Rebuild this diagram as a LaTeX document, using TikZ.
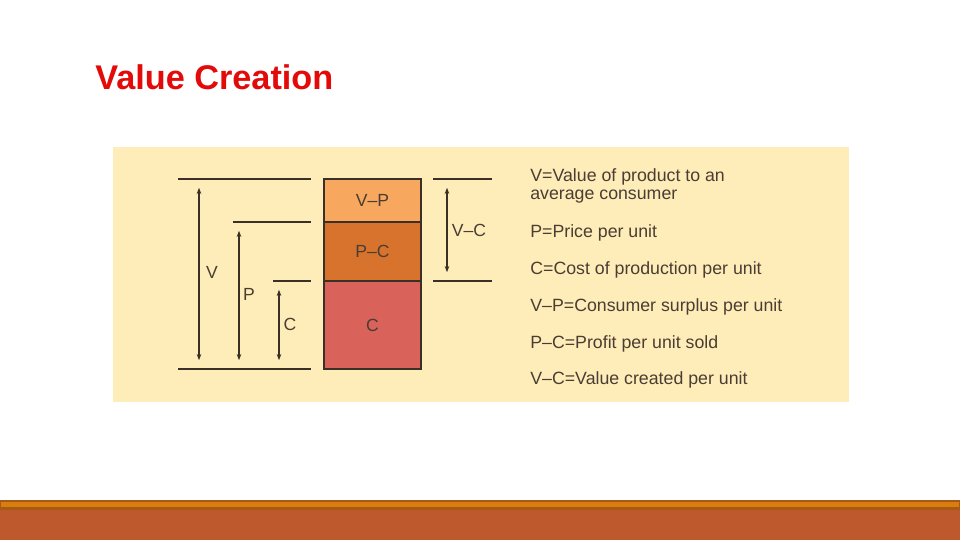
\documentclass[tikz,border=0pt]{standalone}
\usepackage{fontspec}
\setmainfont{Liberation Sans}
\usetikzlibrary{arrows.meta}
\definecolor{titlered}{HTML}{E30A0A}
\definecolor{panel}{HTML}{FEEDB8}
\definecolor{segA}{HTML}{F8A75E}
\definecolor{segB}{HTML}{D8732D}
\definecolor{segC}{HTML}{D9625A}
\definecolor{ink}{HTML}{4A3D33}
\definecolor{lineink}{HTML}{3A3028}
\definecolor{barmain}{HTML}{BD592C}
\definecolor{barstripe}{HTML}{D97C12}
\definecolor{baredge}{HTML}{A85A12}
\tikzset{
  seg/.style={draw=lineink, line width=0.8pt, minimum width=1.94cm, inner sep=0pt, outer sep=0pt, text=ink, font=\fontsize{10}{12}\selectfont},
  lvl/.style={draw=lineink, line width=0.7pt},
  dim/.style={draw=lineink, line width=0.7pt, {Stealth[length=3.5pt,width=2.6pt]}-{Stealth[length=3.5pt,width=2.6pt]}, shorten <=5pt, shorten >=5pt},
  dimlabel/.style={text=ink, font=\fontsize{10}{12}\selectfont, inner sep=0pt},
  legend/.style={text=ink, font=\fontsize{10.1}{12}\selectfont, anchor=west, inner sep=0pt, align=left}
}
\begin{document}
\begin{tikzpicture}[x=0.02cm, y=-0.02cm]
\useasboundingbox (0,0) rectangle (960,540);
\fill[white] (0,0) rectangle (960,540);
% title
\node[anchor=base west, inner sep=0pt, text=titlered, font=\fontsize{19.5}{22}\selectfont\bfseries] (title) at (95,90) {Value Creation};
% panel
\fill[panel] (113,147) rectangle (849,402);
% bar segments
\node[seg, fill=segA, minimum height=0.86cm] (vp) at (372.5,200.5) {V–P};
\node[seg, fill=segB, minimum height=1.18cm, anchor=north] (pc) at (vp.south) {P–C};
\node[seg, fill=segC, minimum height=1.76cm, anchor=north] (cc) at (pc.south) {C};
% level lines
\coordinate (L1a) at (178,179); \coordinate (L1b) at (311,179);
\coordinate (L2a) at (233,222); \coordinate (L2b) at (311,222);
\coordinate (L3a) at (273,281); \coordinate (L3b) at (311,281);
\coordinate (L4a) at (178,369); \coordinate (L4b) at (311,369);
\coordinate (R1a) at (433,179); \coordinate (R1b) at (492,179);
\coordinate (R2a) at (433,281); \coordinate (R2b) at (492,281);
\draw[lvl] (L1a) -- (L1b);
\draw[lvl] (L2a) -- (L2b);
\draw[lvl] (L3a) -- (L3b);
\draw[lvl] (L4a) -- (L4b);
\draw[lvl] (R1a) -- (R1b);
\draw[lvl] (R2a) -- (R2b);
% dimension arrows
\coordinate (Vt) at (199,179); \coordinate (Vb) at (199,369);
\coordinate (Pt) at (239,222); \coordinate (Pb) at (239,369);
\coordinate (Ct) at (279,281); \coordinate (Cb) at (279,369);
\coordinate (VCt) at (447,179); \coordinate (VCb) at (447,281);
\draw[dim] (Vt) -- (Vb);
\draw[dim] (Pt) -- (Pb);
\draw[dim] (Ct) -- (Cb);
\draw[dim] (VCt) -- (VCb);
\node[dimlabel] (Vlab) at (212,272) {V};
\node[dimlabel] (Plab) at (249,294) {P};
\node[dimlabel] (Clab) at (290,324) {C};
\node[dimlabel] (VClab) at (469,230) {V–C};
% legend
\node[legend] (leg1) at (530,186) {V=Value of product to an\\[-1.5pt]average consumer};
\node[legend] (leg2) at (530,233) {P=Price per unit};
\node[legend] (leg3) at (530,270) {C=Cost of production per unit};
\node[legend] (leg4) at (530,307) {V–P=Consumer surplus per unit};
\node[legend] (leg5) at (530,344) {P–C=Profit per unit sold};
\node[legend] (leg6) at (530,380) {V–C=Value created per unit};
% bottom bar
\fill[barmain] (0,500) rectangle (960,540);
\fill[baredge] (0,500) rectangle (960,510);
\fill[barstripe] (1,502) rectangle (959,506.5);
\end{tikzpicture}
\end{document}
